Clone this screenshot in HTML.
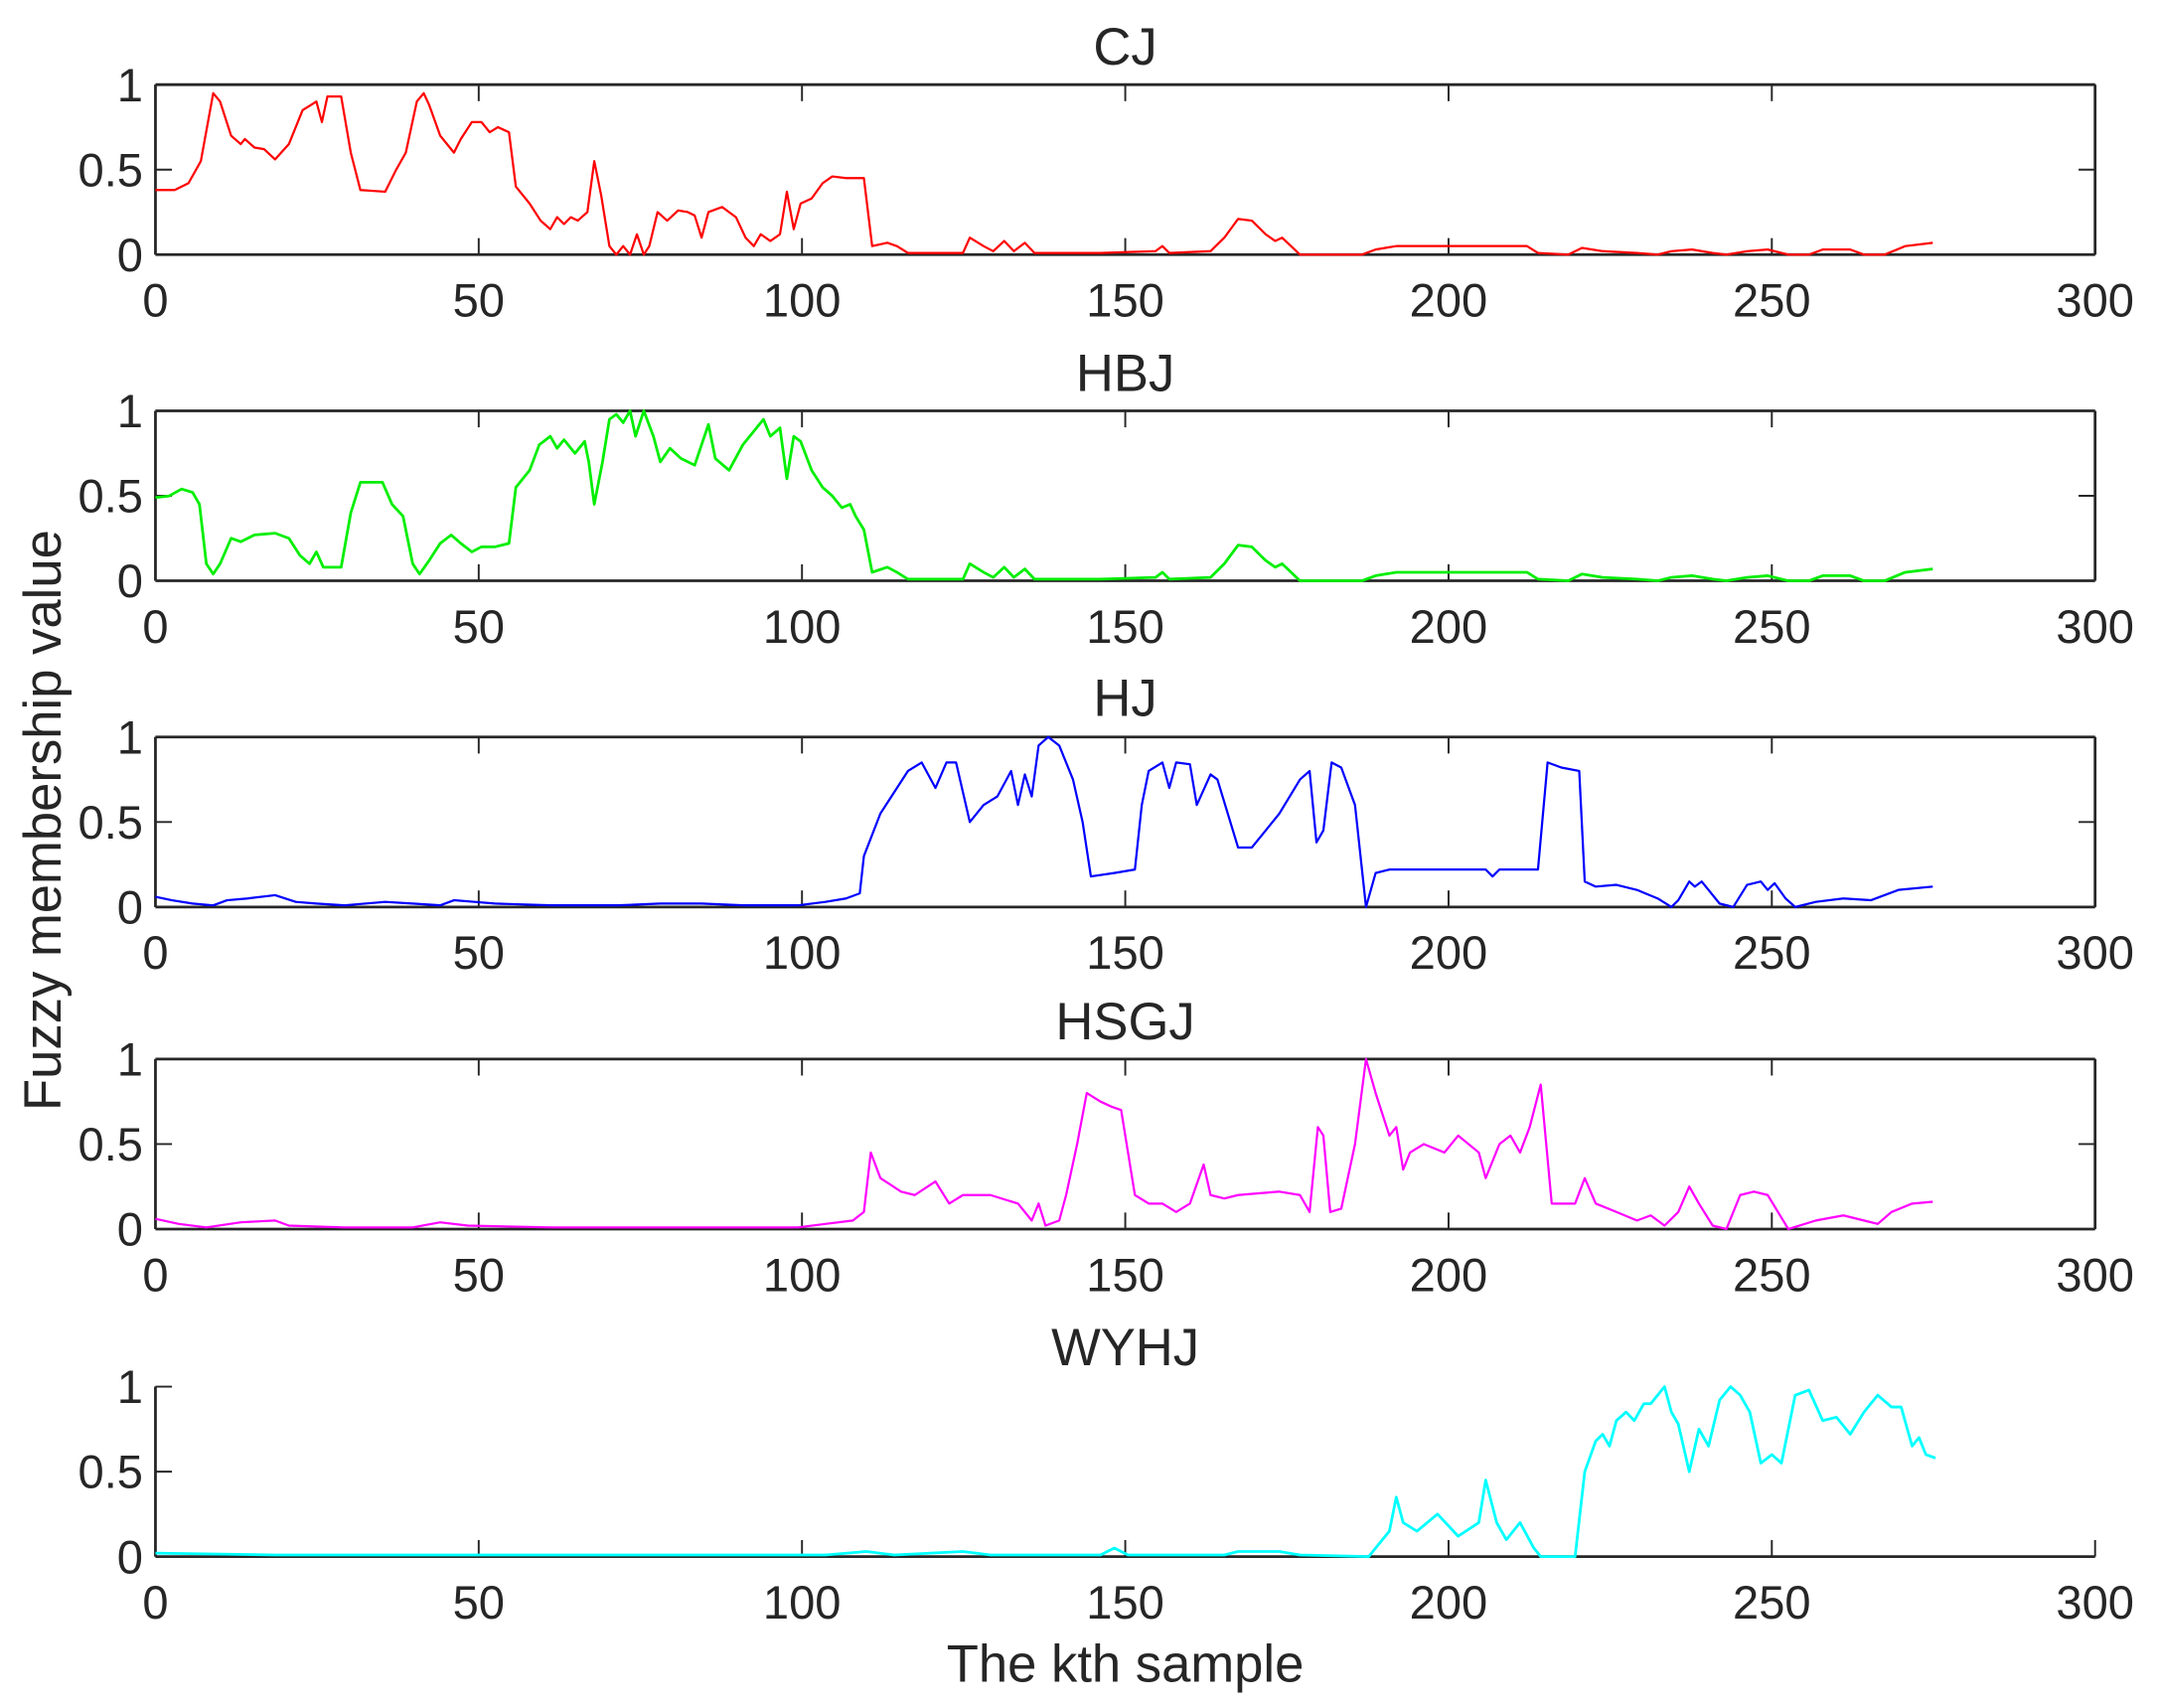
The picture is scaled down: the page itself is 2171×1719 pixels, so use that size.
<!DOCTYPE html>
<html><head><meta charset="utf-8"><style>
html,body{margin:0;padding:0;background:#fff;}
svg{display:block;}
text{font-family:"Liberation Sans",Arial,sans-serif;fill:#262626;}
</style></head><body>
<svg id="s" width="2171" height="1719" viewBox="0 0 1568 1241" preserveAspectRatio="none" xmlns="http://www.w3.org/2000/svg">
<g id="axes" stroke="#262626" fill="none"></g>
<g id="lines" fill="none" stroke-width="1.6" stroke-linejoin="round"></g>
<g font-size="38" text-anchor="middle">
<text x="818" y="47">CJ</text>
<text x="818" y="284">HBJ</text>
<text x="818" y="520">HJ</text>
<text x="818" y="755">HSGJ</text>
<text x="818" y="992">WYHJ</text>
<text x="818" y="1222">The kth sample</text>
<text transform="translate(44,596) rotate(-90)">Fuzzy membership value</text>
</g>
<g id="ticklabels" font-size="34"></g>
</svg>
<script>
var L=113,R=1523,H=123.5,W=(R-L)/300;
var bottoms=[185,422,659,893,1131];
var ax=document.getElementById('axes'),tl=document.getElementById('ticklabels'),ln=document.getElementById('lines');
var NS='http://www.w3.org/2000/svg';
function el(p,n,a,t){var e=document.createElementNS(NS,n);for(var k in a)e.setAttribute(k,a[k]);if(t!==undefined)e.textContent=t;p.appendChild(e);return e;}
bottoms.forEach(function(b,i){
 var t=b-H,full=i<4;
 el(ax,'line',{x1:L,y1:b,x2:R,y2:b,'stroke-width':2});
 el(ax,'line',{x1:L,y1:t,x2:L,y2:b,'stroke-width':2});
 if(full){el(ax,'line',{x1:L,y1:t,x2:R,y2:t,'stroke-width':2});el(ax,'line',{x1:R,y1:t,x2:R,y2:b,'stroke-width':2});}
 for(var k=0;k<=6;k++){var x=L+k*50*W;
  el(ax,'line',{x1:x,y1:b,x2:x,y2:b-12,'stroke-width':1.4});
  if(full)el(ax,'line',{x1:x,y1:t,x2:x,y2:t+12,'stroke-width':1.4});
  el(tl,'text',{x:x,y:b+45,'text-anchor':'middle'},String(k*50));}
 [0,0.5,1].forEach(function(v){var y=b-v*H;
  el(ax,'line',{x1:L,y1:y,x2:L+12,y2:y,'stroke-width':1.4});
  if(full)el(ax,'line',{x1:R,y1:y,x2:R-12,y2:y,'stroke-width':1.4});
  el(tl,'text',{x:104,y:y+12,'text-anchor':'end'},String(v));});
});
var tail=[660,0.01,700,0.01,705,0.1,715,0.05,722,0.02,730,0.08,737,0.02,745,0.07,752,0.01,800,0.01,840,0.02,845,0.05,850,0.01,880,0.02,890,0.1,900,0.21,910,0.2,920,0.12,927,0.08,932,0.1,945,0.0,990,0.0,1000,0.03,1015,0.05,1050,0.05,1080,0.05,1110,0.05,1118,0.01,1140,0.0,1150,0.04,1165,0.02,1190,0.01,1205,0.0,1215,0.02,1230,0.03,1245,0.01,1255,0.0,1270,0.02,1285,0.03,1300,0.0,1315,0.0,1325,0.03,1345,0.03,1355,0.0,1370,0.0,1385,0.05,1405,0.07];
var CJ=[113,0.38,127,0.38,137,0.42,146,0.55,155,0.95,160,0.9,168,0.7,175,0.65,178,0.68,185,0.63,192,0.62,200,0.56,210,0.65,220,0.85,226,0.88,230,0.9,234,0.78,238,0.93,248,0.93,255,0.6,262,0.38,280,0.37,288,0.5,295,0.6,303,0.9,308,0.95,312,0.88,320,0.7,330,0.6,335,0.68,343,0.78,350,0.78,356,0.72,362,0.75,370,0.72,375,0.4,385,0.3,393,0.2,400,0.15,405,0.22,410,0.18,415,0.22,420,0.2,427,0.25,432,0.55,437,0.35,443,0.05,448,0.0,453,0.05,458,0.0,463,0.12,468,0.0,472,0.05,478,0.25,485,0.2,493,0.26,500,0.25,505,0.23,510,0.1,515,0.25,525,0.28,535,0.22,542,0.1,548,0.05,553,0.12,560,0.08,567,0.12,572,0.37,577,0.15,582,0.3,590,0.33,598,0.42,605,0.46,615,0.45,628,0.45,634,0.05,645,0.07,652,0.05].concat(tail);
var HBJ=[113,0.49,123,0.5,132,0.54,140,0.52,145,0.45,150,0.1,155,0.04,160,0.1,168,0.25,175,0.23,185,0.27,200,0.28,210,0.25,218,0.15,225,0.1,230,0.17,235,0.08,248,0.08,255,0.4,262,0.58,278,0.58,285,0.45,293,0.38,300,0.1,305,0.04,312,0.12,320,0.22,328,0.27,335,0.22,343,0.17,350,0.2,360,0.2,370,0.22,375,0.55,385,0.65,392,0.8,400,0.85,405,0.78,410,0.83,418,0.75,425,0.82,428,0.7,432,0.45,438,0.7,443,0.95,448,0.98,453,0.93,458,1.0,462,0.85,468,1.0,475,0.85,480,0.7,487,0.78,495,0.72,505,0.68,515,0.92,520,0.72,530,0.65,540,0.8,548,0.88,555,0.95,560,0.85,567,0.9,572,0.6,577,0.85,582,0.82,590,0.65,598,0.55,605,0.5,612,0.43,618,0.45,622,0.38,628,0.3,634,0.05,645,0.08,652,0.05].concat(tail);
var HJ=[113,0.06,125,0.04,140,0.02,155,0.01,165,0.04,180,0.05,200,0.07,215,0.03,230,0.02,250,0.01,280,0.03,300,0.02,320,0.01,330,0.04,345,0.03,360,0.02,400,0.01,450,0.01,480,0.02,510,0.02,540,0.01,580,0.01,600,0.03,615,0.05,625,0.08,628,0.3,640,0.55,660,0.8,670,0.85,680,0.7,688,0.85,695,0.85,705,0.5,715,0.6,725,0.65,735,0.8,740,0.6,745,0.78,750,0.65,755,0.95,762,1.0,770,0.95,780,0.75,787,0.5,793,0.18,810,0.2,825,0.22,830,0.6,835,0.8,845,0.85,850,0.7,855,0.85,865,0.84,870,0.6,880,0.78,885,0.75,900,0.35,910,0.35,930,0.55,945,0.75,952,0.8,957,0.38,962,0.45,968,0.85,975,0.82,985,0.6,993,0.0,1000,0.2,1010,0.22,1080,0.22,1085,0.18,1090,0.22,1118,0.22,1125,0.85,1135,0.82,1148,0.8,1152,0.15,1160,0.12,1175,0.13,1190,0.1,1205,0.05,1215,0.0,1220,0.04,1228,0.15,1232,0.12,1237,0.15,1242,0.1,1250,0.02,1260,0.0,1270,0.13,1280,0.15,1285,0.1,1290,0.14,1298,0.05,1305,0.0,1320,0.03,1340,0.05,1360,0.04,1380,0.1,1405,0.12];
var HS=[113,0.06,130,0.03,150,0.01,175,0.04,200,0.05,210,0.02,250,0.01,300,0.01,320,0.04,340,0.02,400,0.01,500,0.01,580,0.01,600,0.03,620,0.05,628,0.1,633,0.45,640,0.3,655,0.22,665,0.2,680,0.28,690,0.15,700,0.2,720,0.2,740,0.15,750,0.05,755,0.15,760,0.02,770,0.05,775,0.2,783,0.5,790,0.8,800,0.75,808,0.72,815,0.7,825,0.2,835,0.15,845,0.15,855,0.1,865,0.15,875,0.38,880,0.2,890,0.18,900,0.2,930,0.22,945,0.2,952,0.1,958,0.6,962,0.55,967,0.1,975,0.12,985,0.5,993,1.0,1000,0.8,1010,0.55,1015,0.6,1020,0.35,1025,0.45,1035,0.5,1050,0.45,1060,0.55,1075,0.45,1080,0.3,1090,0.5,1098,0.55,1105,0.45,1112,0.6,1120,0.85,1128,0.15,1145,0.15,1152,0.3,1160,0.15,1175,0.1,1190,0.05,1200,0.08,1210,0.02,1220,0.1,1228,0.25,1235,0.15,1245,0.02,1255,0.0,1265,0.2,1275,0.22,1285,0.2,1300,0.0,1320,0.05,1340,0.08,1355,0.05,1365,0.03,1375,0.1,1390,0.15,1405,0.16];
var WY=[113,0.02,200,0.01,300,0.01,400,0.01,500,0.01,600,0.01,630,0.03,650,0.01,700,0.03,720,0.01,800,0.01,810,0.05,820,0.01,890,0.01,900,0.03,930,0.03,945,0.01,995,0.0,1000,0.05,1010,0.15,1015,0.35,1020,0.2,1030,0.15,1045,0.25,1060,0.12,1075,0.2,1080,0.45,1088,0.2,1095,0.1,1105,0.2,1115,0.05,1120,0.0,1145,0.0,1152,0.5,1160,0.68,1165,0.72,1170,0.65,1175,0.8,1182,0.85,1188,0.8,1195,0.9,1200,0.9,1210,1.0,1215,0.85,1220,0.78,1228,0.5,1235,0.75,1242,0.65,1250,0.92,1258,1.0,1265,0.95,1272,0.85,1280,0.55,1288,0.6,1295,0.55,1305,0.95,1315,0.98,1325,0.8,1335,0.82,1345,0.72,1355,0.85,1365,0.95,1375,0.88,1382,0.88,1390,0.65,1395,0.7,1400,0.6,1407,0.58];
[[CJ,'#ff0000'],[HBJ,'#00ee00'],[HJ,'#0000ff'],[HS,'#ff00ff'],[WY,'#00ffff']].forEach(function(s,i){
 var b=bottoms[i],p=[];for(var k=0;k<s[0].length;k+=2)p.push(s[0][k]+','+(b-s[0][k+1]*H).toFixed(1));
 el(ln,'polyline',{points:p.join(' '),stroke:s[1],'stroke-width':i==1||i==4?2:1.6});
});
</script>
</body></html>
